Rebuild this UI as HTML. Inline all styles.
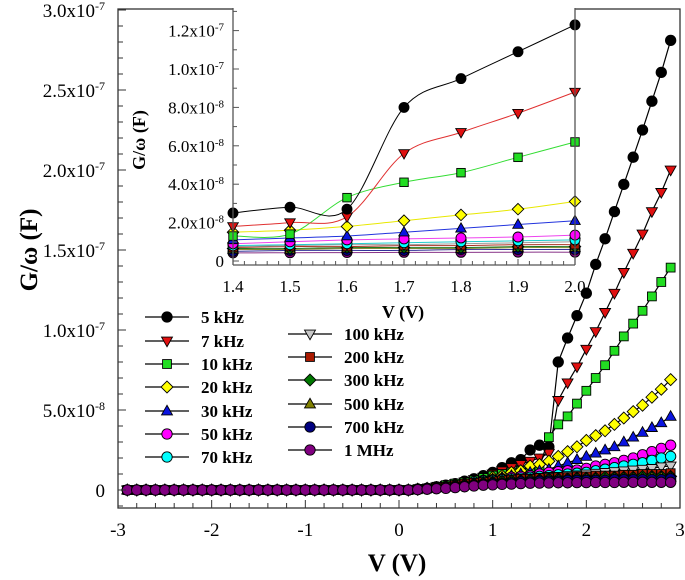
<!DOCTYPE html>
<html><head><meta charset="utf-8"><style>
html,body{margin:0;padding:0;background:#fff;width:685px;height:580px;overflow:hidden}
svg text{font-family:"Liberation Serif",serif;fill:#000}
</style></head><body>
<svg id="chart" width="685" height="580" viewBox="0 0 685 580" xmlns="http://www.w3.org/2000/svg"></svg>
<script>
// Data (G/omega in units of 1e-8 F), V = -2.9 .. 2.9 step 0.1
const voltages = [-2.9,-2.8,-2.7,-2.6,-2.5,-2.4,-2.3,-2.2,-2.1,-2.0,-1.9,-1.8,-1.7,-1.6,-1.5,-1.4,-1.3,-1.2,-1.1,-1.0,-0.9,-0.8,-0.7,-0.6,-0.5,-0.4,-0.3,-0.2,-0.1,0.0,0.1,0.2,0.3,0.4,0.5,0.6,0.7,0.8,0.9,1.0,1.1,1.2,1.3,1.4,1.5,1.6,1.7,1.8,1.9,2.0,2.1,2.2,2.3,2.4,2.5,2.6,2.7,2.8,2.9];
const seriesNames = ["5 kHz","7 kHz","10 kHz","20 kHz","30 kHz","50 kHz","70 kHz","100 kHz","200 kHz","300 kHz","500 kHz","700 kHz","1 MHz"];
const s5k   = [0,0,0,0,0,0,0,0,0,0,0,0,0,0,0,0,0,0,0,0,0,0,0,0,0,0,0,0,0, 0,0,0.05,0.1,0.2,0.3,0.4,0.55,0.7,0.9,1.1,1.4,1.7,1.9,2.5,2.8,2.7,8.0,9.5,10.9,12.3,14.1,15.7,17.4,19.1,20.8,22.5,24.3,26.1,28.1];
const s7k   = [0,0,0,0,0,0,0,0,0,0,0,0,0,0,0,0,0,0,0,0,0,0,0,0,0,0,0,0,0, 0,0,0.05,0.1,0.2,0.3,0.4,0.5,0.65,0.8,1.0,1.2,1.4,1.6,1.8,2.0,2.3,5.6,6.7,7.7,8.8,9.9,11.1,12.3,13.6,14.8,16.0,17.4,18.6,20.0];
const s10k  = [0,0,0,0,0,0,0,0,0,0,0,0,0,0,0,0,0,0,0,0,0,0,0,0,0,0,0,0,0, 0,0,0.05,0.1,0.2,0.3,0.4,0.5,0.6,0.75,0.9,1.0,1.1,1.2,1.3,1.4,3.3,4.1,4.6,5.4,6.2,7.0,7.8,8.7,9.6,10.4,11.2,12.1,13.0,13.9];
const s20k  = [0,0,0,0,0,0,0,0,0,0,0,0,0,0,0,0,0,0,0,0,0,0,0,0,0,0,0,0,0, 0,0,0.05,0.1,0.15,0.2,0.3,0.4,0.5,0.6,0.8,0.9,1.1,1.2,1.5,1.6,1.8,2.1,2.4,2.7,3.1,3.4,3.7,4.1,4.5,4.9,5.3,5.8,6.3,6.9];
const s30k  = [0,0,0,0,0,0,0,0,0,0,0,0,0,0,0,0,0,0,0,0,0,0,0,0,0,0,0,0,0, 0,0,0.05,0.1,0.15,0.2,0.3,0.4,0.5,0.6,0.7,0.8,0.9,1.0,1.1,1.2,1.3,1.5,1.7,1.9,2.1,2.3,2.5,2.7,3.0,3.3,3.6,3.9,4.2,4.6];
const s50k  = [0,0,0,0,0,0,0,0,0,0,0,0,0,0,0,0,0,0,0,0,0,0,0,0,0,0,0,0,0, 0,0,0.05,0.1,0.15,0.2,0.3,0.4,0.5,0.6,0.65,0.7,0.8,0.85,0.9,1.0,1.1,1.15,1.2,1.25,1.35,1.5,1.6,1.7,1.85,2.0,2.2,2.4,2.6,2.8];
const s70k  = [0,0,0,0,0,0,0,0,0,0,0,0,0,0,0,0,0,0,0,0,0,0,0,0,0,0,0,0,0, 0,0,0.05,0.1,0.15,0.2,0.3,0.4,0.5,0.55,0.6,0.65,0.7,0.75,0.8,0.85,0.9,0.95,1.0,1.05,1.1,1.2,1.3,1.4,1.5,1.6,1.7,1.85,2.0,2.1];
const s100k = [0,0,0,0,0,0,0,0,0,0,0,0,0,0,0,0,0,0,0,0,0,0,0,0,0,0,0,0,0, 0,0,0.05,0.1,0.15,0.2,0.3,0.4,0.45,0.5,0.55,0.6,0.65,0.7,0.75,0.8,0.85,0.85,0.9,0.95,1.0,1.05,1.1,1.15,1.2,1.25,1.3,1.35,1.45,1.5];
const s200k = [0,0,0,0,0,0,0,0,0,0,0,0,0,0,0,0,0,0,0,0,0,0,0,0,0,0,0,0,0, 0,0,0.05,0.1,0.15,0.2,0.3,0.4,0.45,0.5,0.55,0.6,0.65,0.7,0.7,0.75,0.75,0.8,0.8,0.85,0.85,0.9,0.9,0.9,0.95,0.95,1.0,1.0,1.0,1.05];
const s300k = [0,0,0,0,0,0,0,0,0,0,0,0,0,0,0,0,0,0,0,0,0,0,0,0,0,0,0,0,0, 0,0,0.05,0.1,0.15,0.2,0.3,0.35,0.4,0.45,0.5,0.55,0.6,0.6,0.65,0.65,0.7,0.7,0.7,0.75,0.75,0.75,0.8,0.8,0.8,0.8,0.85,0.85,0.85,0.85];
const s500k = [0,0,0,0,0,0,0,0,0,0,0,0,0,0,0,0,0,0,0,0,0,0,0,0,0,0,0,0,0, 0,0,0.05,0.1,0.15,0.2,0.25,0.3,0.35,0.4,0.45,0.5,0.55,0.55,0.6,0.6,0.65,0.65,0.65,0.7,0.7,0.7,0.7,0.75,0.75,0.75,0.75,0.8,0.8,0.8];
const s700k = [0,0,0,0,0,0,0,0,0,0,0,0,0,0,0,0,0,0,0,0,0,0,0,0,0,0,0,0,0, 0,0,0.05,0.1,0.1,0.15,0.2,0.25,0.3,0.35,0.4,0.4,0.45,0.5,0.5,0.55,0.55,0.55,0.6,0.6,0.6,0.6,0.6,0.65,0.65,0.65,0.65,0.65,0.65,0.7];
const s1M   = [0,0,0,0,0,0,0,0,0,0,0,0,0,0,0,0,0,0,0,0,0,0,0,0,0,0,0,0,0, 0,0,0.02,0.05,0.08,0.1,0.15,0.2,0.25,0.3,0.32,0.35,0.37,0.4,0.42,0.43,0.44,0.45,0.45,0.46,0.46,0.47,0.47,0.47,0.48,0.48,0.48,0.48,0.48,0.48];
const xTicks = [-3,-2,-1,0,1,2,3];
const yTicks = [0,5,10,15,20,25,30];
const yTickLabels = ["0","5.0x10<tspan baseline-shift='super' font-size='12'>-8</tspan>","1.0x10<tspan baseline-shift='super' font-size='12'>-7</tspan>","1.5x10<tspan baseline-shift='super' font-size='12'>-7</tspan>","2.0x10<tspan baseline-shift='super' font-size='12'>-7</tspan>","2.5x10<tspan baseline-shift='super' font-size='12'>-7</tspan>","3.0x10<tspan baseline-shift='super' font-size='12'>-7</tspan>"];
const insetXTicks = [1.4,1.5,1.6,1.7,1.8,1.9,2.0];
const insetYTicks = [0,2,4,6,8,10,12];
const insetYTickLabels = ["0","2.0x10<tspan baseline-shift='super' font-size='11'>-8</tspan>","4.0x10<tspan baseline-shift='super' font-size='11'>-8</tspan>","6.0x10<tspan baseline-shift='super' font-size='11'>-8</tspan>","8.0x10<tspan baseline-shift='super' font-size='11'>-8</tspan>","1.0x10<tspan baseline-shift='super' font-size='11'>-7</tspan>","1.2x10<tspan baseline-shift='super' font-size='11'>-7</tspan>"];

const allSeries = [s5k,s7k,s10k,s20k,s30k,s50k,s70k,s100k,s200k,s300k,s500k,s700k,s1M];
const styles = [
 {m:"circle",f:"#000000",l:"#000"},{m:"tdown",f:"#e01010",l:"#e03030"},{m:"square",f:"#22dd22",l:"#33dd33"},
 {m:"diamond",f:"#ffff00",l:"#e8e800"},{m:"tup",f:"#0a14e0",l:"#2233dd"},{m:"circle",f:"#ff00ff",l:"#ee44ee"},
 {m:"circle",f:"#00ffff",l:"#22cccc"},{m:"tdown",f:"#c8c8c8",l:"#999"},{m:"square",f:"#aa1a00",l:"#aa3322"},
 {m:"diamond",f:"#007700",l:"#227722"},{m:"tup",f:"#808000",l:"#888833"},{m:"circle",f:"#000080",l:"#333399"},
 {m:"circle",f:"#800080",l:"#883388"}];

const svg = document.getElementById('chart');
const NS = "http://www.w3.org/2000/svg";
function mk(tag, attrs, parent){const e=document.createElementNS(NS,tag);for(const k in attrs)e.setAttribute(k,attrs[k]);(parent||svg).appendChild(e);return e;}

// main axes
const X0=118,X1=680,Y0=9,Y1=508;
const xs = v => 399 + v*93.67;
const ys = v => 490 - v*16;
function marker(g,type,x,y,r,fill){
  let e;
  if(type==="circle") e=mk("circle",{cx:x,cy:y,r:r},g);
  else if(type==="square") e=mk("rect",{x:x-r*0.85,y:y-r*0.85,width:r*1.7,height:r*1.7},g);
  else if(type==="diamond") e=mk("polygon",{points:`${x},${y-r*1.15} ${x+r*1.15},${y} ${x},${y+r*1.15} ${x-r*1.15},${y}`},g);
  else if(type==="tup") e=mk("polygon",{points:`${x},${y-r*1.1} ${x+r*1.05},${y+r*0.75} ${x-r*1.05},${y+r*0.75}`},g);
  else e=mk("polygon",{points:`${x},${y+r*1.1} ${x+r*1.05},${y-r*0.75} ${x-r*1.05},${y-r*0.75}`},g);
  e.setAttribute("fill",fill);e.setAttribute("stroke","#000");e.setAttribute("stroke-width","0.9");
  
  
  return e;
}

// series in main plot
allSeries.forEach((arr,si)=>{
  const g=mk("g",{});
  
  
  const pts=arr.map((v,i)=>xs(voltages[i]).toFixed(1)+","+ys(v).toFixed(1)).join(" ");
  mk("polyline",{points:pts,fill:"none",stroke:"#000","stroke-width":1.2},g);
  arr.forEach((v,i)=>marker(g,styles[si].m,xs(voltages[i]),ys(v),5.2,styles[si].f));
});

// frame and ticks
const axes=mk("g",{});


mk("rect",{x:X0,y:Y0,width:X1-X0,height:Y1-Y0,fill:"none",stroke:"#333","stroke-width":1.3},axes);
for(let k=-15;k<=15;k++){const v=k/5;const x=xs(v);if(x<X0-1||x>X1+1)continue;const L=(k%5===0)?8:5;mk("line",{x1:x,y1:Y1,x2:x,y2:Y1-L,stroke:"#333","stroke-width":1},axes);}
for(let k=-1;k<=30;k++){const y=ys(k);if(y<Y0||y>Y1)continue;const L=(k%5===0)?8:5;mk("line",{x1:X0,y1:y,x2:X0+L,y2:y,stroke:"#333","stroke-width":1},axes);}
xTicks.forEach(t=>{const e=mk("text",{x:xs(t),y:536,"font-size":19,"text-anchor":"middle"},axes);e.textContent=String(t);});
yTicks.forEach((t,i)=>{const e=mk("text",{x:105,y:ys(t)+7,"font-size":19,"text-anchor":"end"},axes);e.innerHTML=yTickLabels[i];});
const xt=mk("text",{x:397,y:571,"font-size":25,"font-weight":"bold","text-anchor":"middle"});xt.textContent="V (V)";

const yt=mk("text",{x:0,y:0,"font-size":25,"font-weight":"bold","text-anchor":"middle",transform:"translate(37,250) rotate(-90)"});yt.textContent="G/ω (F)";


// legend
const leg=mk("g",{});

const legPos=[[167,317],[167,341],[167,364],[167,387],[167,411],[167,434],[167,457],[310,334],[310,357],[310,380],[310,404],[310,427],[310,450]];
seriesNames.forEach((n,i)=>{
  const [mx,my]=legPos[i];
  const g=mk("g",{},leg);
  
  mk("line",{x1:mx-22,y1:my,x2:mx+22,y2:my,stroke:"#000","stroke-width":1.3},g);
  marker(g,styles[i].m,mx,my,5.2,styles[i].f);
  const t=mk("text",{x:mx+34,y:my+6,"font-size":17,"font-weight":"bold"},g);t.textContent=n;
});

// inset
const IX0=233,IX1=575,IY0=8,IY1=265;
const ixs=v=>233+(v-1.4)*(342/0.6);
const iys=v=>261-v*19.2;
const ins=mk("g",{});

mk("rect",{x:IX0,y:IY0,width:IX1-IX0,height:IY1-IY0,fill:"#fff",stroke:"none"},ins);
function smoothPath(p){let d=`M${p[0][0]},${p[0][1]}`;for(let i=0;i<p.length-1;i++){const p0=p[Math.max(0,i-1)],p1=p[i],p2=p[i+1],p3=p[Math.min(p.length-1,i+2)];const c1=[p1[0]+(p2[0]-p0[0])/6,p1[1]+(p2[1]-p0[1])/6],c2=[p2[0]-(p3[0]-p1[0])/6,p2[1]-(p3[1]-p1[1])/6];d+=` C${c1[0].toFixed(1)},${c1[1].toFixed(1)} ${c2[0].toFixed(1)},${c2[1].toFixed(1)} ${p2[0].toFixed(1)},${p2[1].toFixed(1)}`;}return d;}
allSeries.slice().reverse().forEach((arr,ri)=>{
  const si=allSeries.length-1-ri;
  const g=mk("g",{},ins);
  
  const p=[];voltages.forEach((v,i)=>{if(v>1.35&&v<2.05)p.push([ixs(v),iys(arr[i])]);});
  mk("path",{d:smoothPath(p),fill:"none",stroke:styles[si].l,"stroke-width":1},g);
  p.forEach(q=>marker(g,styles[si].m,q[0],q[1],5,styles[si].f));
});
mk("line",{x1:IX0,y1:IY0,x2:IX0,y2:IY1,stroke:"#555","stroke-width":1.3},ins);
mk("line",{x1:IX0,y1:IY1,x2:IX1,y2:IY1,stroke:"#555","stroke-width":1.3},ins);
mk("line",{x1:IX1,y1:IY0,x2:IX1,y2:IY1,stroke:"#555","stroke-width":1.3},ins);
for(let k=0;k<=30;k++){const x=233+k*(342/30);const L=(k%5===0)?6:4;mk("line",{x1:x,y1:IY1,x2:x,y2:IY1-L,stroke:"#555","stroke-width":1},ins);}
for(let k=0;k<=13;k++){const y=iys(k);const L=(k%2===0)?6:4;mk("line",{x1:IX0,y1:y,x2:IX0+L,y2:y,stroke:"#555","stroke-width":1},ins);}
insetXTicks.forEach(t=>{const e=mk("text",{x:ixs(t),y:292,"font-size":17,"text-anchor":"middle"},ins);e.textContent=t.toFixed(1);});
insetYTicks.forEach((t,i)=>{const e=mk("text",{x:224,y:iys(t)+6,"font-size":17,"text-anchor":"end"},ins);e.innerHTML=insetYTickLabels[i];});
const ixt=mk("text",{x:403,y:318,"font-size":18,"font-weight":"bold","text-anchor":"middle"},ins);ixt.textContent="V (V)";

const iyt=mk("text",{x:0,y:0,"font-size":18,"font-weight":"bold","text-anchor":"middle",transform:"translate(145,140) rotate(-90)"},ins);iyt.textContent="G/ω (F)";

</script>
</body></html>
